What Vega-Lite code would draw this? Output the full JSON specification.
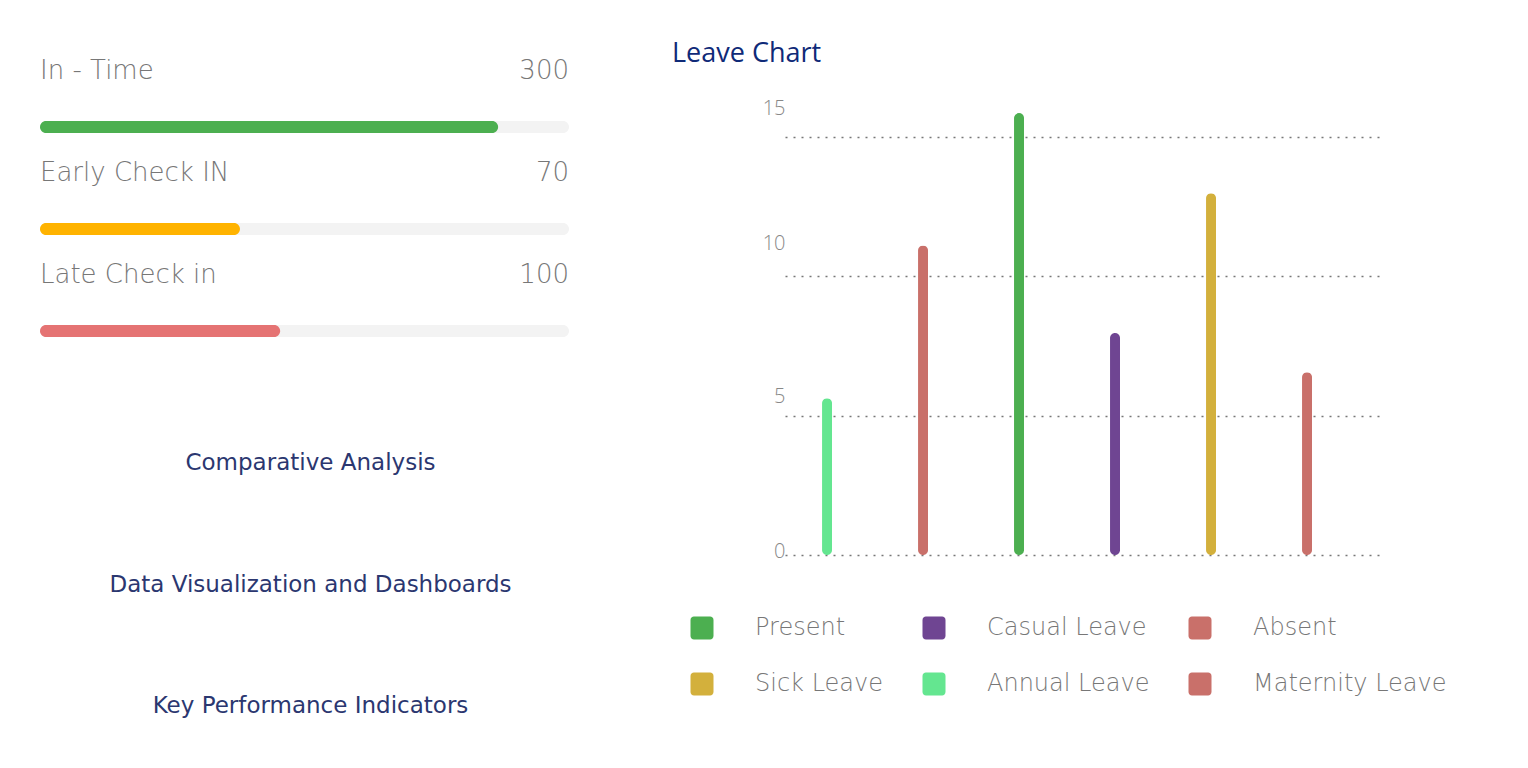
{
  "$schema": "https://vega.github.io/schema/vega-lite/v6.json",
  "background": "white",
  "padding": {"left": 40, "top": 40, "right": 0, "bottom": 0},
  "bounds": "flush",
  "spacing": 216,
  "config": {"view": {"stroke": null}, "font": "Open Sans"},
  "resolve": {"scale": {"color": "independent", "x": "independent", "y": "independent"}},
  "hconcat": [
    {
      "width": 529,
      "height": 688,
      "resolve": {"scale": {"y": "independent"}},
      "layer": [
        {
          "data": {"values": [
            {"metric": "In - Time", "count": 300, "fill_pct": 86.6},
            {"metric": "Early Check IN", "count": 70, "fill_pct": 37.8},
            {"metric": "Late Check in", "count": 100, "fill_pct": 45.4}
          ]},
          "encoding": {
            "y": {"field": "metric", "type": "nominal", "sort": null, "axis": null,
                  "scale": {"type": "band", "range": [0, 296], "paddingInner": 0.098, "paddingOuter": 0, "align": 0}}
          },
          "layer": [
            {
              "mark": {"type": "bar", "height": 12, "cornerRadius": 6, "color": "#f3f3f3"},
              "encoding": {
                "x": {"datum": 100, "type": "quantitative", "scale": {"domain": [0, 100], "nice": false}, "axis": null},
                "x2": {"datum": 0}
              }
            },
            {
              "mark": {"type": "bar", "height": 12, "cornerRadius": 6},
              "encoding": {
                "x": {"field": "fill_pct", "type": "quantitative", "scale": {"domain": [0, 100], "nice": false}, "axis": null},
                "x2": {"datum": 0},
                "color": {"field": "metric", "type": "nominal", "legend": null,
                          "scale": {"domain": ["In - Time", "Early Check IN", "Late Check in"], "range": ["#4caf50", "#ffb300", "#e57373"]}}
              }
            },
            {
              "mark": {"type": "text", "align": "left", "baseline": "middle", "dy": -56, "fontSize": 26, "font": "DejaVu Sans", "fontWeight": 200, "color": "#777777"},
              "encoding": {
                "x": {"datum": 0, "type": "quantitative", "scale": {"domain": [0, 100], "nice": false}, "axis": null},
                "text": {"field": "metric"}
              }
            },
            {
              "mark": {"type": "text", "align": "right", "baseline": "middle", "dy": -56, "fontSize": 26, "font": "DejaVu Sans", "fontWeight": 200, "color": "#777777"},
              "encoding": {
                "x": {"datum": 100, "type": "quantitative", "scale": {"domain": [0, 100], "nice": false}, "axis": null},
                "text": {"field": "count"}
              }
            }
          ]
        },
        {
          "data": {"values": [
            {"topic": "Comparative Analysis"},
            {"topic": "Data Visualization and Dashboards"},
            {"topic": "Key Performance Indicators"}
          ]},
          "mark": {"type": "text", "fontSize": 23, "font": "DejaVu Sans", "color": "#2b3770", "baseline": "middle", "align": "center", "dx": 6},
          "encoding": {
            "y": {"field": "topic", "type": "nominal", "sort": null, "axis": null,
                  "scale": {"type": "point", "range": [382, 625], "padding": 0}},
            "text": {"field": "topic"}
          }
        }
      ]
    },
    {
      "width": 595,
      "height": 474,
      "title": {"text": "Leave Chart", "anchor": "start", "frame": "group", "dx": -113, "fontSize": 27, "fontWeight": 400, "color": "#0f2a78", "font": "Open Sans", "offset": -14, "baseline": "bottom"},
      "data": {"values": [
        {"category": "Annual Leave", "days": 5.62},
        {"category": "Absent", "days": 11.1},
        {"category": "Present", "days": 15.85},
        {"category": "Casual Leave", "days": 7.96},
        {"category": "Sick Leave", "days": 12.97},
        {"category": "Maternity Leave", "days": 6.55}
      ]},
      "mark": {"type": "bar", "width": 10, "cornerRadius": 5},
      "encoding": {
        "x": {"field": "category", "type": "nominal", "sort": null, "axis": null,
              "scale": {"type": "band", "paddingInner": 0.5, "paddingOuter": 0.349, "align": 0.269}},
        "y": {"field": "days", "type": "quantitative",
              "scale": {"domain": [0, 17], "nice": false},
              "axis": {"values": [0, 5, 10, 15], "title": null, "domain": false, "ticks": false,
                       "labelPadding": 0, "labelAlign": "right", "labelBaseline": "middle",
                       "labelFontSize": 20, "labelFont": "Open Sans", "labelFontWeight": 300, "labelColor": "#888888",
                       "gridColor": "#777777", "gridDash": [2, 6], "gridWidth": 1.5,
                       "labelOffset": {"condition": [
                         {"test": "datum.value == 0", "value": -4},
                         {"test": "datum.value == 5", "value": -19},
                         {"test": "datum.value == 10", "value": -33}
                       ], "value": -28}}},
        "color": {"field": "category", "type": "nominal",
                  "scale": {"domain": ["Present", "Casual Leave", "Absent", "Sick Leave", "Annual Leave", "Maternity Leave"],
                            "range": ["#4caf50", "#6f4592", "#c9706a", "#d3b03c", "#64e690", "#c9706a"]},
                  "legend": {"title": null, "orient": "none", "legendX": -95, "legendY": 535, "direction": "horizontal", "columns": 3,
                             "symbolType": "M -0.7 -1 H 0.7 A 0.3 0.3 0 0 1 1 -0.7 V 0.7 A 0.3 0.3 0 0 1 0.7 1 H -0.7 A 0.3 0.3 0 0 1 -1 0.7 V -0.7 A 0.3 0.3 0 0 1 -0.7 -1 Z",
                             "symbolSize": 529, "symbolStrokeWidth": 0, "symbolOpacity": 1,
                             "labelFontSize": 24, "labelFont": "DejaVu Sans", "labelFontWeight": 200, "labelColor": "#777777",
                             "labelOffset": 41, "columnPadding": 38, "rowPadding": 32, "padding": 0, "labelLimit": 300}}
      }
    }
  ]
}
